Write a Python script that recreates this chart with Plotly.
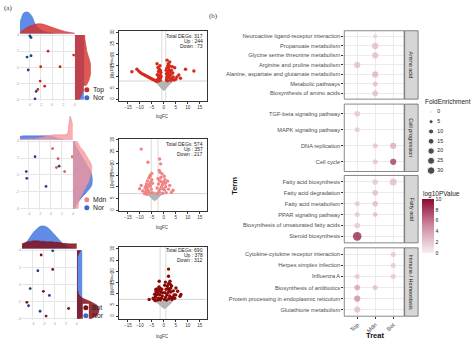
import plotly.graph_objects as go

W, H = 474, 341
FONT = "Liberation Sans, Arial, sans-serif"

# ======================= DATA =======================
dens_grid = [0, 0.5, 1, 1.5, 2, 2.5, 3, 3.5, 4, 4.5, 5, 5.5, 6, 6.5, 7, 7.5, 8, 8.5, 9, 9.5, 10]

# panel a1 (Top vs Nor)
a1_x = [2.1, 2.3, 5.3, 1.6, 2.3, 4.0, 7.4, 1.8, 3.9, 4.7, 3.5, 3.2, 3.0, 9.8]
a1_y = [9.85, 9.6, 7.5, 6.6, 6.8, 5.1, 5.1, 4.6, 2.9, 2.1, 1.6, 1.3, 0.15, 6.9]
a1_grp = ["Nor", "Nor", "Top", "Nor", "Nor", "Top", "Top", "Nor", "Top", "Top", "Top", "Nor", "Nor", "Top"]
a1_top_nor = [0, 14, 21, 22, 21, 17, 10, 6, 4, 2.5, 1.5, 1, 0.5, 0, 0, 0, 0, 0, 0, 0, 0]
a1_top_grp = [0, 2, 4, 6, 7.5, 8.5, 9.5, 10, 10, 9.5, 8.5, 7.5, 6.5, 5.5, 4.5, 3.5, 2.8, 2, 1.5, 1, 0.5]
a1_right_nor = [12, 12.5, 12, 11, 10, 9, 9, 9, 9, 9, 9, 9, 9, 9, 9, 9, 9, 9, 9, 9, 9]
a1_right_grp = [4, 6, 7, 9, 11, 12.5, 14, 15, 16, 16.5, 16.5, 16, 15, 14, 13, 12, 11.5, 11, 10.5, 10, 10]

# panel a2 (Mdn vs Nor)
a2_x = [6.3, 3.1, 7.3, 9.9, 7.5, 7.0, 8.5, 1.5, 1.6, 5.1]
a2_y = [8.9, 7.7, 7.4, 7.7, 6.3, 6.1, 5.5, 5.5, 4.5, 3.3]
a2_grp = ["Mdn", "Nor", "Mdn", "Mdn", "Nor", "Mdn", "Mdn", "Nor", "Nor", "Nor"]
a2_top_nor = [3, 3.5, 4, 4, 4, 4, 4, 4, 4, 4, 4, 4, 3.5, 3, 2, 1, 0.5, 0, 0, 0, 0]
a2_top_grp = [0.5, 0.5, 0.5, 0.8, 1, 1, 1, 1.5, 2, 2.5, 3.5, 4, 4.5, 5, 5, 5, 5, 5, 6, 24, 14]
a2_right_nor = [2, 3, 5, 8, 11, 14, 17, 19, 19.5, 19.5, 19, 18, 16, 14, 12, 10, 8, 6, 4, 2.5, 1.5]
a2_right_grp = [5, 5.5, 6, 7, 9, 10.5, 12.5, 14, 16, 17, 18, 18.5, 19, 18.5, 17, 15, 13, 11, 8, 6, 4]

# panel a3 (Bot vs Nor)
a3_x = [5.6, 3.5, 2.9, 5.6, 1.5, 3.9, 5.0, 0.9, 1.2, 8.5, 3.3, 4.4]
a3_y = [9.9, 9.3, 7.0, 7.2, 4.4, 4.0, 3.4, 2.4, 1.9, 1.5, 1.1, 0.4]
a3_grp = ["Nor", "Bot", "Nor", "Bot", "Nor", "Bot", "Nor", "Bot", "Nor", "Bot", "Nor", "Bot"]
a3_top_nor = [3, 5, 8, 12, 16, 19, 21.5, 23, 23, 22, 20, 17, 14, 11, 8, 5, 3, 1.5, 1, 0.5, 0]
a3_top_grp = [5, 6, 7, 7.5, 8, 8, 8, 7.5, 7.5, 7, 7, 7, 6.5, 6.5, 6, 5.5, 5.5, 5, 5, 5, 5]
a3_right_nor = [3, 5, 5, 5, 5, 5, 5, 5, 5, 5, 5, 5, 5, 5, 5, 5, 5, 5, 5, 5, 5]
a3_right_grp = [14, 20, 22, 22, 20, 14, 6, 2, 1, 0.5, 0.5, 0.5, 0.5, 0.5, 0.5, 0.5, 0.5, 0.5, 0.5, 2, 4]

scatter_xtick_vals = [2, 4, 6, 8, 10]
scatter_xtick_text = ["-4", "-2", "0", "2", "4"]
scatter_ytick_vals = [0, 2.5, 5, 7.5, 10]
scatter_ytick_text = ["-4", "-2", "0", "2", "4"]

# volcano 1
v1_sig_x = [-13.3, -11.2, -10.5, -9.8, -9.1, -8.6, -8.0, -7.5, -7.0, -6.5, -6.0, -5.5, -4.9, -4.4, -3.8, -3.3, -2.8,
            -2.5, -2.0, -1.5, -1.2, -2.2, -1.8, -1.3, -2.7, -1.5, -2.0, -2.8, -1.1, -2.4, -1.6, -1.9, -2.3, -1.4,
            1.2, 1.5, 1.8, 2.2, 2.5, 1.3, 3.0, 3.5, 2.8, 4.0, 1.6, 2.2, 1.1, 3.2, 4.6, 6.3, 9.1, 12.6, 5.0, 2.5,
            1.9, 1.4, 2.7, 3.8, 1.0, 2.0, 3.3, 5.5, 4.3, 7.0, 1.7, 3.6, 1.3, 2.4, 3.0, 1.7, 2.9, 1.2, 2.1]
v1_sig_y = [12.4, 13.5, 12.7, 12.0, 11.5, 11.2, 10.9, 10.6, 10.3, 10.0, 9.7, 9.4, 9.1, 8.8, 8.5, 8.3, 8.0,
            9.0, 10.0, 11.0, 12.0, 12.5, 13.5, 9.5, 11.0, 8.5, 8.3, 16.0, 10.3, 14.3, 15.1, 9.2, 10.8, 12.9,
            9.0, 10.5, 12.0, 13.0, 16.8, 14.0, 11.0, 9.5, 8.5, 10.0, 8.3, 9.8, 11.5, 13.0, 14.2, 10.9, 13.5, 12.7, 9.0,
            15.0, 16.0, 17.6, 12.2, 11.8, 13.0, 11.2, 8.7, 10.0, 8.6, 9.4, 15.0, 14.6, 9.9, 10.6, 9.1, 11.8, 12.8,
            8.4, 14.1]
v1_ns_x = [0, -0.4, 0.4, -0.8, 0.8, -1.2, 1.2, -1.6, 1.6, -2.0, 2.0, -2.5, 2.5, -3.0, 3.0,
           -0.2, 0.3, -0.7, 0.6, -1.1, 1.0, -0.3, 0.2, -1.6, 1.5, -0.5, 0.5, 0, -0.9, 0.9]
v1_ns_y = [4.6, 5.0, 5.0, 5.5, 5.5, 6.0, 6.0, 6.5, 6.5, 7.0, 7.0, 7.5, 7.5, 7.9, 7.9,
           5.6, 6.2, 6.4, 7.0, 7.2, 7.6, 7.4, 5.3, 7.8, 7.7, 6.0, 6.6, 7.0, 7.9, 6.9]
v1_counts = [317, 244, 73]
v1_thr, v1_fc = 8.2, [-0.8, 0.8]

# volcano 2
v2_sig_x = [-8.0, -7.5, -7.0, -6.5, -6.0, -5.5, -5.0, -7.8, -7.2, -6.8, -6.2, -5.6, -5.2, -4.8, -6.0, -7.0, -5.5,
            -6.5, -4.7, -5.8, -6.9, -5.0, -7.5,
            -2.6, -2.0, -1.5, -1.0, -0.5, 0, 0.5, 1.0, -2.8, -2.2, -1.7, -1.2, -0.7, -1.9, 0.3, 0.8, -0.2, -2.4,
            -1.0, 0.2, -0.4, -1.5, 0.7,
            -10.1, 3.9, 2.5, -9.4, -9.4, -6.6, -1.7, -1.3, 2.0, -8.8, 1.6, 3.2]
v2_sig_y = [7, 8, 9, 10, 11, 12, 13, 9.5, 11.2, 12.5, 13.8, 15.0, 9.0, 7.5, 7.6, 6.8, 10.3,
            8.2, 11.5, 14.5, 7.4, 15.7, 10.2,
            7, 8, 9, 10, 11, 12, 13, 7.5, 9.5, 11.2, 12.6, 14, 15.5, 17, 8.6, 10.0, 9.2, 13.5,
            12.2, 14.5, 7.2, 16.2, 11.5,
            9.2, 8.5, 10.6, 10.6, 26.1, 20.5, 21.9, 19.8, 9.0, 8.2, 12.4, 7.6]
v2_ns_x = [-3.8, -4.3, -3.3, -4.8, -2.8, -5.3, -2.3, -5.8, -1.8, -6.3, -1.3, -3.6, -4.0, -3.2, -4.5, -2.9,
           -3.9, -5.0, -2.5, -4.2, -3.4, -6.8, -0.8, -3.7]
v2_ns_y = [4.7, 5.1, 5.1, 5.6, 5.6, 6.1, 6.1, 6.6, 6.6, 7.0, 7.0, 5.5, 6.0, 6.4, 6.8, 6.9,
           6.6, 6.3, 6.3, 5.4, 5.9, 7.3, 7.3, 7.2]
v2_counts = [574, 357, 217]
v2_thr, v2_fc = 7.1, [-5.2, -2.4]

# volcano 3
v3_sig_x = [2.0, 2.0, 2.6, -1.9, -3.3, -6.1, 7.2, 5.8, 5.1, 6.8,
            -4.0, -3.5, -3.0, -2.5, -2.0, -1.5, -1.0, -0.6, -3.8, -3.2, -2.8, -2.2, -1.7, -1.2, -0.8, -3.6,
            -2.6, -1.4, -0.5, -2.0, -4.4,
            0.3, 0.8, 1.3, 1.8, 2.3, 2.8, 3.3, 3.8, 4.3, 0.5, 1.0, 1.5, 2.0, 0.4, 2.5, 3.0, 3.5, 4.0, 1.2,
            2.2, 0.7, 1.7, 2.7, 3.2, 4.6, 5.0]
v3_sig_y = [21.0, 17.8, 15.6, 15.6, 11.9, 7.5, 9.7, 11.1, 12.6, 8.9,
            7.5, 8.5, 9.5, 10.5, 11.5, 12.5, 8.0, 9.0, 9.8, 11.0, 12.2, 8.0, 9.6, 10.8, 12.0, 7.0,
            7.2, 7.3, 10.5, 13.0, 8.0,
            7.5, 8.5, 9.5, 10.5, 11.5, 12.5, 13.5, 8.5, 9.5, 10.5, 12.0, 13.5, 14.5, 13.8, 9.0, 10.8, 7.5, 11.3, 7.2,
            7.8, 15.2, 12.3, 14.3, 8.3, 8.0, 9.5]
v3_ns_x = [0.3, -0.2, 0.8, -0.7, 1.3, -1.2, 1.8, -1.7, 2.3, -2.2, 2.8, -2.7, 3.0, 0.0, 0.6, -0.4,
           1.0, -0.9, 1.5, 0.3, -1.4, 2.0, -3.3, 0.5]
v3_ns_y = [4.0, 4.4, 4.4, 4.9, 4.9, 5.4, 5.4, 5.9, 5.9, 6.3, 6.3, 6.7, 6.7, 5.1, 5.5, 5.8,
           6.1, 6.4, 6.6, 6.4, 6.6, 6.5, 6.9, 4.7]
v3_counts = [690, 378, 312]
v3_thr, v3_fc = 7.5, [-1.5, 0.9]

volc_xticks = [-15, -10, -5, 0, 5, 10, 15]
volc_yticks = [0, 5, 10, 15, 20, 25, 30]

# enrichment bubble chart
treat_levels = ["Top", "Mdn", "Bot"]
facet_names = ["Amino acid", "Cell progression", "Fatty acid", "Immune / Homeostasis"]
facet_terms = [
    ["Neuroactive ligand-receptor interaction", "Propanoate metabolism", "Glycine serine threonine metabolism",
     "Arginine and proline metabolism", "Alanine, aspartate and glutamate metabolism", "Metabolic pathways",
     "Biosynthesis of amino acids"],
    ["TGF-beta signaling pathway", "MAPK signaling pathway", "DNA replication", "Cell cycle"],
    ["Fatty acid biosynthesis", "Fatty acid degradation", "Fatty acid metabolism", "PPAR signaling pathway",
     "Biosynthesis of unsaturated fatty acids", "Steroid biosynthesis"],
    ["Cytokine-cytokine receptor interaction", "Herpes simplex infection", "Influenza A",
     "Biosynthesis of antibiotics", "Protein processing in endoplasmic reticulum", "Glutathione metabolism"],
]
bub_term = ["Neuroactive ligand-receptor interaction", "Propanoate metabolism", "Glycine serine threonine metabolism",
            "Arginine and proline metabolism", "Alanine, aspartate and glutamate metabolism", "Metabolic pathways",
            "Biosynthesis of amino acids",
            "TGF-beta signaling pathway", "MAPK signaling pathway", "DNA replication", "DNA replication",
            "Cell cycle", "Cell cycle",
            "Fatty acid biosynthesis", "Fatty acid biosynthesis", "Fatty acid degradation", "Fatty acid metabolism",
            "Fatty acid metabolism", "PPAR signaling pathway", "PPAR signaling pathway",
            "Biosynthesis of unsaturated fatty acids", "Steroid biosynthesis",
            "Cytokine-cytokine receptor interaction", "Herpes simplex infection", "Influenza A", "Influenza A",
            "Biosynthesis of antibiotics", "Biosynthesis of antibiotics",
            "Protein processing in endoplasmic reticulum", "Glutathione metabolism"]
bub_treat = ["Mdn", "Mdn", "Mdn", "Top", "Mdn", "Mdn", "Mdn",
             "Top", "Top", "Mdn", "Bot", "Mdn", "Bot",
             "Mdn", "Bot", "Mdn", "Top", "Mdn", "Top", "Mdn", "Top", "Top",
             "Bot", "Bot", "Top", "Bot", "Top", "Mdn", "Top", "Top"]
bub_fe = [6, 20, 18, 18, 18, 10, 14,
          14, 10, 10, 18, 10, 18,
          14, 25, 14, 10, 14, 10, 8, 14, 42,
          10, 10, 10, 10, 14, 10, 18, 18]
bub_logp = [2, 3, 3, 3, 3.5, 3, 3,
            2.5, 2.5, 2.5, 4, 2.5, 9,
            2.5, 3, 3, 2.5, 3, 2.5, 3, 2.5, 10,
            2.5, 2.5, 2.5, 2.5, 4.5, 3, 5.5, 3]
size_legend_vals = [0, 5, 10, 15, 20, 25, 30]
pval_ticks = [0, 2, 4, 6, 8, 10]

# ======================= HELPERS =======================
layout = {}
shapes = []
annotations = []
traces = []
_n = [0]


def add_axes(xpx, ypx, xa=None, ya=None):
    _n[0] += 1
    i = _n[0]
    s = "" if i == 1 else str(i)
    base = dict(showgrid=False, zeroline=False, showticklabels=False, ticks="", showline=False, fixedrange=True)
    xd = dict(base, domain=[xpx[0] / W, xpx[1] / W], anchor="y" + s)
    yd = dict(base, domain=[1 - ypx[1] / H, 1 - ypx[0] / H], anchor="x" + s)
    if xa:
        xd.update(xa)
    if ya:
        yd.update(ya)
    layout["xaxis" + s] = xd
    layout["yaxis" + s] = yd
    return "x" + s, "y" + s


def ann(text, xpx, ypx, size, color="#222", xanchor="center", yanchor="middle", angle=0, bold=False, family=FONT):
    annotations.append(dict(
        x=xpx / W, y=1 - ypx / H, xref="paper", yref="paper", text=("<b>%s</b>" % text) if bold else text,
        showarrow=False, font=dict(size=size, color=color, family=family), xanchor=xanchor, yanchor=yanchor,
        textangle=angle))


def dot_size(v):
    return 1.6 + 1.08 * v ** 0.5


BLUE_F, BLUE_L = "rgba(72,124,226,0.88)", "rgb(60,105,200)"
NOR_PT = "#24408f"

# ======================= LEFT PANELS (a) =======================
left_panels = [
    dict(x=a1_x, y=a1_y, grp=a1_grp, tn=a1_top_nor, tg=a1_top_grp, rn=a1_right_nor, rg=a1_right_grp,
         name="Top", fill="rgba(214,48,40,0.8)", line="rgb(200,45,40)", pt="#c8281e",
         sx=(20, 75), sy=(32, 100), ty=(8, 32), trange=24, rx=(75, 91), rrange=16, xr=[0.35, 10],
         leg=(87, 88.5, 96.5)),
    dict(x=a2_x, y=a2_y, grp=a2_grp, tn=a2_top_nor, tg=a2_top_grp, rn=a2_right_nor, rg=a2_right_grp,
         name="Mdn", fill="rgba(246,150,155,0.78)", line="rgb(235,135,140)", pt="#d0605f",
         sx=(20, 73), sy=(139, 210), ty=(112, 139), trange=27, rx=(73, 93), rrange=20, xr=[0.35, 10],
         leg=(87, 199.5, 207.5)),
    dict(x=a3_x, y=a3_y, grp=a3_grp, tn=a3_top_nor, tg=a3_top_grp, rn=a3_right_nor, rg=a3_right_grp,
         name="Bot", fill="rgba(130,16,26,0.86)", line="rgb(120,15,25)", pt="#7a1010",
         sx=(22, 77), sy=(249, 321), ty=(224, 249), trange=25, rx=(77, 100), rrange=23, xr=[0, 10],
         leg=(86, 308.5, 316.5)),
]

for p in left_panels:
    xa, ya = add_axes(p["sx"], p["sy"],
                      dict(range=p["xr"], showgrid=True, gridcolor="#e6e6e6", gridwidth=0.5,
                           showticklabels=True, tickvals=scatter_xtick_vals, ticktext=scatter_xtick_text,
                           tickfont=dict(size=3.5, color="#9a9a9a", family=FONT)),
                      dict(range=[-0.2, 10.2], showgrid=True, gridcolor="#e6e6e6", gridwidth=0.5,
                           showticklabels=True, tickvals=scatter_ytick_vals, ticktext=scatter_ytick_text,
                           tickfont=dict(size=3.5, color="#9a9a9a", family=FONT)))
    cols = [NOR_PT if g == "Nor" else p["pt"] for g in p["grp"]]
    traces.append(go.Scatter(x=p["x"], y=p["y"], mode="markers", xaxis=xa, yaxis=ya,
                             marker=dict(size=2.8, color=cols), showlegend=False, hoverinfo="skip"))
    xa, ya = add_axes(p["sx"], p["ty"], dict(range=p["xr"]), dict(range=[0, p["trange"]]))
    traces.append(go.Scatter(x=dens_grid, y=p["tn"], mode="lines", fill="tozeroy", fillcolor=BLUE_F,
                             line=dict(color=BLUE_L, width=0.5, shape="spline", smoothing=0.6),
                             xaxis=xa, yaxis=ya, showlegend=False, hoverinfo="skip"))
    traces.append(go.Scatter(x=dens_grid, y=p["tg"], mode="lines", fill="tozeroy", fillcolor=p["fill"],
                             line=dict(color=p["line"], width=0.5, shape="spline", smoothing=0.6),
                             xaxis=xa, yaxis=ya, showlegend=False, hoverinfo="skip"))
    xa, ya = add_axes(p["rx"], p["sy"], dict(range=[0, p["rrange"]]), dict(range=[-0.2, 10.2]))
    traces.append(go.Scatter(x=p["rn"], y=dens_grid, mode="lines", fill="tozerox", fillcolor=BLUE_F,
                             line=dict(color=BLUE_L, width=0.5, shape="spline", smoothing=0.6),
                             xaxis=xa, yaxis=ya, showlegend=False, hoverinfo="skip"))
    traces.append(go.Scatter(x=p["rg"], y=dens_grid, mode="lines", fill="tozerox", fillcolor=p["fill"],
                             line=dict(color=p["line"], width=0.5, shape="spline", smoothing=0.6),
                             xaxis=xa, yaxis=ya, showlegend=False, hoverinfo="skip"))
    lx, ly1, ly2 = p["leg"]
    xa, ya = add_axes((lx - 3, lx + 3), (ly1 - 4, ly2 + 4), dict(range=[-1, 1]), dict(range=[0, 1]))
    traces.append(go.Scatter(x=[0, 0], y=[1 - 4 / (ly2 - ly1 + 8), 1 - (ly2 - ly1 + 4) / (ly2 - ly1 + 8)],
                             mode="markers", marker=dict(size=5, color=[p["line"], BLUE_L]),
                             xaxis=xa, yaxis=ya, showlegend=False, hoverinfo="skip", cliponaxis=False))
    ann(p["name"], lx + 4, ly1, 6.8, xanchor="left")
    ann("Nor", lx + 4, ly2, 6.8, xanchor="left")

# ======================= VOLCANOES =======================
volcanoes = [
    dict(sx=v1_sig_x, sy=v1_sig_y, nx=v1_ns_x, ny=v1_ns_y, cnt=v1_counts, thr=v1_thr, fc=v1_fc,
         col="#d42a1e", dom_y=(29, 100), yr=[-0.9, 30.9], ttl=116, txt_y=(34, 39, 44)),
    dict(sx=v2_sig_x, sy=v2_sig_y, nx=v2_ns_x, ny=v2_ns_y, cnt=v2_counts, thr=v2_thr, fc=v2_fc,
         col="#f08383", dom_y=(138, 211), yr=[-0.4, 30.5], ttl=228, txt_y=(143, 148, 153)),
    dict(sx=v3_sig_x, sy=v3_sig_y, nx=v3_ns_x, ny=v3_ns_y, cnt=v3_counts, thr=v3_thr, fc=v3_fc,
         col="#8a0808", dom_y=(247, 320), yr=[-1.3, 30.9], ttl=337, txt_y=(250, 255, 260)),
]
for v in volcanoes:
    ax_common = dict(showline=True, mirror=True, linecolor="#333", linewidth=0.6, ticks="outside",
                     ticklen=2, tickwidth=0.5, tickcolor="#333", showticklabels=True,
                     tickfont=dict(size=4.5, color="#333", family=FONT))
    xa, ya = add_axes((119, 207), v["dom_y"],
                      dict(ax_common, range=[-18.8, 17.9], tickvals=volc_xticks),
                      dict(ax_common, range=v["yr"], tickvals=volc_yticks, tickangle=-90))
    shapes.append(dict(type="line", xref=xa + " domain", yref=ya, x0=0, x1=1, y0=v["thr"], y1=v["thr"],
                       line=dict(color="#b8b8b8", width=0.6), layer="below"))
    for f in v["fc"]:
        shapes.append(dict(type="line", xref=xa, yref=ya + " domain", x0=f, x1=f, y0=0, y1=1,
                           line=dict(color="#c4c4c4", width=0.6), layer="below"))
    traces.append(go.Scatter(x=v["nx"], y=v["ny"], mode="markers", xaxis=xa, yaxis=ya,
                             marker=dict(size=3.4, color="#b4b4b4"), showlegend=False, hoverinfo="skip"))
    traces.append(go.Scatter(x=v["sx"], y=v["sy"], mode="markers", xaxis=xa, yaxis=ya,
                             marker=dict(size=3.4, color=v["col"]), showlegend=False, hoverinfo="skip"))
    c = v["cnt"]
    ann("Total DEGs: %d" % c[0], 205, v["txt_y"][0], 5, xanchor="right")
    ann("Up : %d" % c[1], 205, v["txt_y"][1], 5, xanchor="right")
    ann("Down : %d" % c[2], 205, v["txt_y"][2], 5, xanchor="right")
    ann("logFC", 163, v["ttl"], 4.5, color="#333")
    ann("-log10(PValue)", 112, (v["dom_y"][0] + v["dom_y"][1]) / 2, 3.5, color="#333", angle=-90)

# ======================= BUBBLE CHART (b) =======================
facet_dom = [(29, 98), (103, 171), (175, 243), (248, 317)]
for k, (fname, terms, dy) in enumerate(zip(facet_names, facet_terms, facet_dom)):
    last = k == len(facet_names) - 1
    nrow = len(terms)
    xa, ya = add_axes((345, 405), dy,
                      dict(type="category", categoryorder="array", categoryarray=treat_levels,
                           range=[-0.72, 2.61], showgrid=True, gridcolor="#ebebeb", gridwidth=0.6,
                           showticklabels=last, ticks="outside" if last else "", ticklen=2, tickcolor="#333",
                           tickangle=-45, tickfont=dict(size=5.8, color="#4d4d4d", family=FONT)),
                      dict(type="category", categoryorder="array", categoryarray=terms,
                           range=[nrow - 0.4, -0.6], showgrid=True, gridcolor="#ebebeb", gridwidth=0.6,
                           showticklabels=True, ticks="outside", ticklen=2, tickcolor="#333",
                           tickfont=dict(size=5.7, color="#4d4d4d", family=FONT)))
    idx = [i for i, t in enumerate(bub_term) if t in terms]
    traces.append(go.Scatter(
        x=[bub_treat[i] for i in idx], y=[bub_term[i] for i in idx], mode="markers", xaxis=xa, yaxis=ya,
        marker=dict(size=[dot_size(bub_fe[i]) for i in idx], color=[bub_logp[i] for i in idx],
                    coloraxis="coloraxis", line=dict(width=0)),
        showlegend=False, hoverinfo="skip"))
    shapes.append(dict(type="rect", xref="paper", yref="paper", x0=345 / W, x1=405 / W,
                       y0=1 - dy[1] / H, y1=1 - dy[0] / H, line=dict(color="#555", width=0.7)))
    shapes.append(dict(type="rect", xref="paper", yref="paper", x0=405.5 / W, x1=419 / W,
                       y0=1 - dy[1] / H, y1=1 - dy[0] / H, fillcolor="#d6d6d6",
                       line=dict(color="#555", width=0.7)))
    ann(fname, 412.3, (dy[0] + dy[1]) / 2, 5.4, color="#1a1a1a", angle=90)

ann("Term", 235, 186, 7.5, color="#111", angle=-90, bold=True)
ann("Treat", 376, 336, 7.5, color="#111", bold=True)

# size legend
xa, ya = add_axes((427, 452), (106, 175),
                  dict(range=[0, 1]),
                  dict(type="category", categoryorder="array", categoryarray=[str(v) for v in size_legend_vals],
                       range=[6.5, -0.5]))
traces.append(go.Scatter(x=[0.2] * len(size_legend_vals), y=[str(v) for v in size_legend_vals], mode="markers",
                         marker=dict(size=[dot_size(v) for v in size_legend_vals], color="black"),
                         xaxis=xa, yaxis=ya, showlegend=False, hoverinfo="skip"))
traces.append(go.Scatter(x=[0.45] * len(size_legend_vals), y=[str(v) for v in size_legend_vals], mode="text",
                         text=[str(v) for v in size_legend_vals], textposition="middle right",
                         textfont=dict(size=5.2, color="#222", family=FONT),
                         xaxis=xa, yaxis=ya, showlegend=False, hoverinfo="skip", cliponaxis=False))
ann("FoldEnrichment", 424, 100, 6.5, color="#1a1a1a", xanchor="left")
ann("log10PValue", 422, 194, 6.5, color="#1a1a1a", xanchor="left")

ann("(a)", 2, 6, 7, color="#333", xanchor="left", family="Liberation Serif, Times New Roman, serif")
ann("(b)", 207, 14, 7, color="#333", xanchor="left", family="Liberation Serif, Times New Roman, serif")

# ======================= FIGURE =======================
fig = go.Figure(data=traces)
fig.update_layout(
    width=W, height=H, margin=dict(l=0, r=0, t=0, b=0),
    paper_bgcolor="white", plot_bgcolor="white",
    font=dict(family=FONT, size=6, color="#222"),
    showlegend=False, shapes=shapes, annotations=annotations,
    coloraxis=dict(cmin=0, cmax=10, colorscale=[[0, "#f7eff3"], [0.5, "#cf8aa2"], [1, "#8b0a30"]],
                   colorbar=dict(x=423 / W, xanchor="left", y=1 - 226 / H, yanchor="middle",
                                 len=54 / H, lenmode="fraction", thickness=12, outlinewidth=0,
                                 tickvals=pval_ticks, ticks="", xpad=0, ypad=0,
                                 tickfont=dict(size=5.2, color="#222", family=FONT))),
    **layout,
)
fig.write_html("out.html")
